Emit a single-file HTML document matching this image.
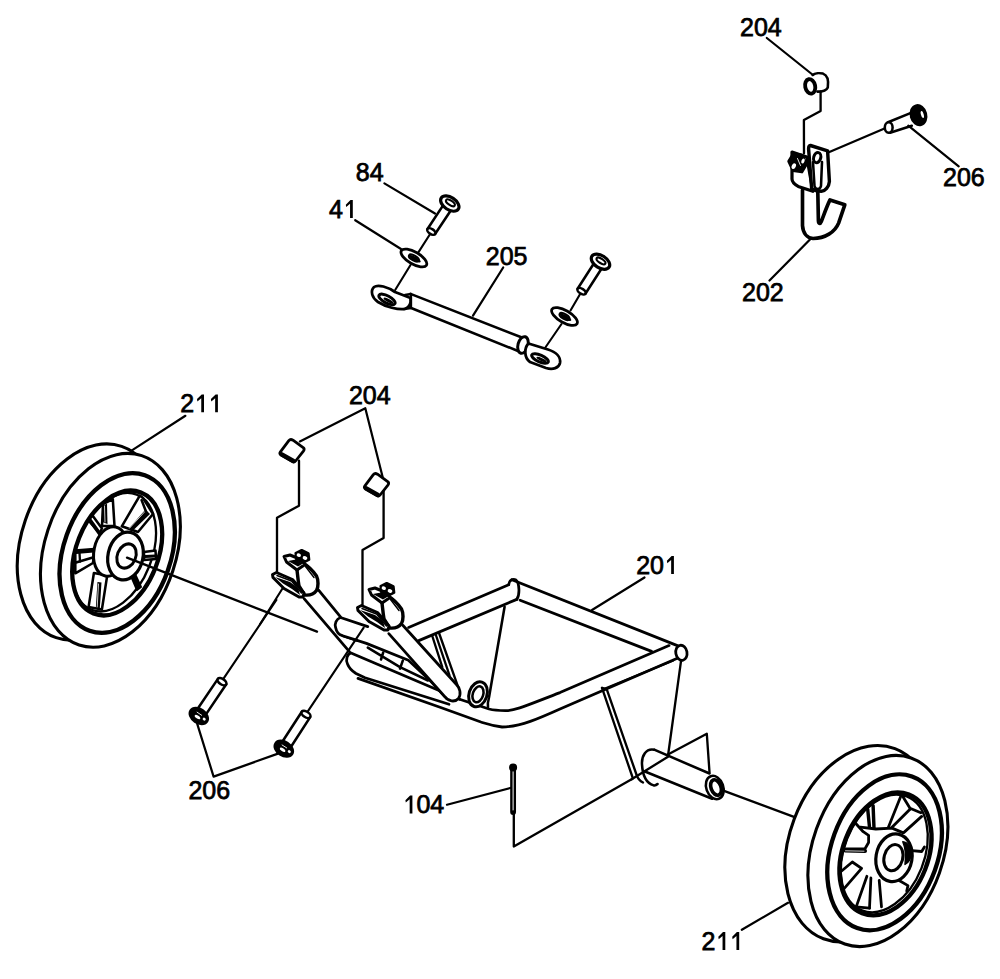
<!DOCTYPE html>
<html><head><meta charset="utf-8"><title>Parts diagram</title>
<style>html,body{margin:0;padding:0;background:#fff;width:1000px;height:979px;overflow:hidden}</style>
</head><body>
<svg width="1000" height="979" viewBox="0 0 1000 979" style="display:block">
<rect width="1000" height="979" fill="#fff"/>
<g font-family="Liberation Sans, sans-serif" font-size="25" fill="#000" stroke="#000" stroke-width="0.75">
<text x="740.00 753.90 767.80" y="36.3">204</text><text x="943.00 956.90 970.80" y="186.2">206</text><text x="742.00 755.90 769.80" y="301">202</text><text x="355.80 369.70" y="180.6">84</text><path d="M350.50,200.00 L352.80,200.00 L352.80,217.90 L350.05,217.90 L350.05,203.80 L346.20,207.10 L345.80,204.70 Z" stroke="none"/><text x="329.00" y="217.9">4</text><text x="485.80 499.70 513.60" y="265.1">205</text><path d="M201.70,394.40 L204.00,394.40 L204.00,412.30 L201.25,412.30 L201.25,398.20 L197.40,401.50 L197.00,399.10 Z" stroke="none"/><path d="M215.60,394.40 L217.90,394.40 L217.90,412.30 L215.15,412.30 L215.15,398.20 L211.30,401.50 L210.90,399.10 Z" stroke="none"/><text x="180.20" y="412.3">2</text><text x="348.90 362.80 376.70" y="404">204</text><path d="M671.60,556.10 L673.90,556.10 L673.90,574.00 L671.15,574.00 L671.15,559.90 L667.30,563.20 L666.90,560.80 Z" stroke="none"/><text x="636.20 650.10" y="574.0">20</text><text x="188.40 202.30 216.20" y="798.9">206</text><path d="M410.10,795.50 L412.40,795.50 L412.40,813.40 L409.65,813.40 L409.65,799.30 L405.80,802.60 L405.40,800.20 Z" stroke="none"/><text x="416.40 430.30" y="813.4">04</text><path d="M723.00,932.10 L725.30,932.10 L725.30,950.00 L722.55,950.00 L722.55,935.90 L718.70,939.20 L718.30,936.80 Z" stroke="none"/><path d="M736.90,932.10 L739.20,932.10 L739.20,950.00 L736.45,950.00 L736.45,935.90 L732.60,939.20 L732.20,936.80 Z" stroke="none"/><text x="701.50" y="950.0">2</text>
</g>
<g fill="none" stroke="#000" stroke-width="1.6" stroke-linecap="round" stroke-linejoin="round">
<path d="M766.8,38.0 L813.0,75.0" fill="none" stroke="#000" stroke-width="2.22"  stroke-linejoin="round" stroke-linecap="round"/><path d="M908.3,125.7 L958.7,166.3" fill="none" stroke="#000" stroke-width="2.22"  stroke-linejoin="round" stroke-linecap="round"/><path d="M769.5,280.5 L811.7,237.8" fill="none" stroke="#000" stroke-width="2.22"  stroke-linejoin="round" stroke-linecap="round"/><path d="M384.4,183.4 L435.0,213.5" fill="none" stroke="#000" stroke-width="2.22"  stroke-linejoin="round" stroke-linecap="round"/><path d="M355.2,220.2 L401.0,249.0" fill="none" stroke="#000" stroke-width="2.22"  stroke-linejoin="round" stroke-linecap="round"/><path d="M503.2,267.5 L473.0,315.7" fill="none" stroke="#000" stroke-width="2.22"  stroke-linejoin="round" stroke-linecap="round"/><path d="M185.4,415.8 L131.5,450.6" fill="none" stroke="#000" stroke-width="2.22"  stroke-linejoin="round" stroke-linecap="round"/><path d="M299.9,441.4 L365.3,408.2 L382.7,477.2" fill="none" stroke="#000" stroke-width="2.22"  stroke-linejoin="round" stroke-linecap="round"/><path d="M644.5,577.5 L592.0,610.0" fill="none" stroke="#000" stroke-width="2.22"  stroke-linejoin="round" stroke-linecap="round"/><path d="M196.3,720.9 L213.6,776.6 L278.0,753.6" fill="none" stroke="#000" stroke-width="2.22"  stroke-linejoin="round" stroke-linecap="round"/><path d="M447.0,804.7 L511.1,787.8" fill="none" stroke="#000" stroke-width="2.22"  stroke-linejoin="round" stroke-linecap="round"/><path d="M741.8,929.8 L788.0,902.8" fill="none" stroke="#000" stroke-width="2.22"  stroke-linejoin="round" stroke-linecap="round"/>
</g>
<path d="M504.6,606.8 L518.5,599.4 L651.6,651.4 L681.1,660.4 L668.1,755 L636.9,775.8 L607.4,689 L560,692.6 L505.4,710.6 L489,709 L487.4,707.3 Z" fill="#fff" stroke="none"  stroke-linejoin="round" stroke-linecap="round"/><path d="M511.9,579.8 L678,645.9" fill="none" stroke="#000" stroke-width="2.77"  stroke-linejoin="round" stroke-linecap="round"/><path d="M520.1,600.2 L651.6,651.4" fill="none" stroke="#000" stroke-width="2.77"  stroke-linejoin="round" stroke-linecap="round"/><path d="M508.7,584.7 L408.6,627.4 M516.8,599.4 L418.8,640.6" fill="none" stroke="#000" stroke-width="2.77"  stroke-linejoin="round" stroke-linecap="round"/><path d="M508.7,584.7 C509,580 513,578.5 516,580 C519.5,583 520,595 516.8,599.4" fill="none" stroke="#000" stroke-width="2.77"  stroke-linejoin="round" stroke-linecap="round"/><path d="M504.6,606.8 L489,697.5 C488,701 487.5,704 488,707.3" fill="none" stroke="#000" stroke-width="2.55"  stroke-linejoin="round" stroke-linecap="round"/><path d="M432.1,635.5 L442.3,667.2" fill="none" stroke="#000" stroke-width="2.33"  stroke-linejoin="round" stroke-linecap="round"/><path d="M435.7,634.5 L449.5,675.4" fill="none" stroke="#000" stroke-width="2.33"  stroke-linejoin="round" stroke-linecap="round"/><path d="M439.2,633.5 L458.7,688.7" fill="none" stroke="#000" stroke-width="2.33"  stroke-linejoin="round" stroke-linecap="round"/><ellipse cx="681.4" cy="652.8" rx="5.6" ry="7.6" transform="rotate(-10.0 681.4 652.8)" fill="#fff" stroke="#000" stroke-width="2.77" /><path d="M669,645.6 L560,692.6 C530,704 515,711 505.4,710.6 C498,710.5 493,710 489,709 L459.6,699.2" fill="none" stroke="#000" stroke-width="2.77"  stroke-linejoin="round" stroke-linecap="round"/><path d="M676.8,658.6 L560,709 C540,718 520,727 502.1,727 C492,726 486,723.5 480.9,722 L440,707.3 L358,678.4" fill="none" stroke="#000" stroke-width="2.77"  stroke-linejoin="round" stroke-linecap="round"/><path d="M673.3,660.4 L603.9,689" fill="none" stroke="#000" stroke-width="2.11"  stroke-linejoin="round" stroke-linecap="round"/><path d="M602.0,687.9 L632.6,777.5" fill="none" stroke="#000" stroke-width="2.33"  stroke-linejoin="round" stroke-linecap="round"/><path d="M606.7,689.1 L636.8,775.5 C638,779 640,781 643,782.5" fill="none" stroke="#000" stroke-width="2.33"  stroke-linejoin="round" stroke-linecap="round"/><path d="M602.0,687.9 L606.7,689.1" fill="none" stroke="#000" stroke-width="2.33"  stroke-linejoin="round" stroke-linecap="round"/><path d="M681.1,660.4 L668.1,755.0" fill="none" stroke="#000" stroke-width="2.33"  stroke-linejoin="round" stroke-linecap="round"/><ellipse cx="478.0" cy="694.3" rx="9.0" ry="12.8" transform="rotate(18.0 478.0 694.3)" fill="#fff" stroke="#000" stroke-width="2.99" /><ellipse cx="478.0" cy="694.3" rx="5.2" ry="8.2" transform="rotate(18.0 478.0 694.3)" fill="#fff" stroke="#000" stroke-width="2.55" /><path d="M654.2,749.7 C646,748 641.5,756 642,764.3 C642.5,774 646,783 653.7,785.4 C655,785.6 656.5,785 657.5,784" fill="none" stroke="#000" stroke-width="2.55"  stroke-linejoin="round" stroke-linecap="round"/><path d="M654.2,749.7 L709.5,773.5 M644.3,771.3 L712.1,798.8" fill="none" stroke="#000" stroke-width="2.55"  stroke-linejoin="round" stroke-linecap="round"/><ellipse cx="714.8" cy="787.5" rx="8.5" ry="12.0" transform="rotate(-20.0 714.8 787.5)" fill="#fff" stroke="#000" stroke-width="2.55" /><ellipse cx="716.0" cy="787.5" rx="5.0" ry="8.0" transform="rotate(-20.0 716.0 787.5)" fill="#fff" stroke="#000" stroke-width="3.65" /><path d="M724.0,790.8 L794.6,817.2" fill="none" stroke="#000" stroke-width="2.33"  stroke-linejoin="round" stroke-linecap="round"/><path d="M667.0,755.0 L706.8,733.7 L709.5,772.2" fill="none" stroke="#000" stroke-width="2.33"  stroke-linejoin="round" stroke-linecap="round"/><path d="M631.7,779.3 L668.0,756.7" fill="none" stroke="#000" stroke-width="2.33"  stroke-linejoin="round" stroke-linecap="round"/>
<path d="M459.6,699.2 L351,653 C347,654 345.5,660 347.5,664 C349,668 352,671 356,673.5 L365,677.7 L449,704.3" fill="#fff" stroke="#000" stroke-width="2.77"  stroke-linejoin="round" stroke-linecap="round"/><path d="M318.8,590.3 L340.5,616.8" fill="none" stroke="#000" stroke-width="2.77"  stroke-linejoin="round" stroke-linecap="round"/><path d="M304.1,598.6 L349.6,651.8" fill="none" stroke="#000" stroke-width="2.77"  stroke-linejoin="round" stroke-linecap="round"/><path d="M342.6,635.7 L366.4,643.4 L408.4,660.2 L430.8,681.2 L444.8,696.6" fill="none" stroke="#000" stroke-width="2.77"  stroke-linejoin="round" stroke-linecap="round"/><path d="M367.8,647.6 L400,667.2 L428,680.5 M383.2,652.5 L381,659.5 M402.8,660.6 L400,668.6" fill="none" stroke="#000" stroke-width="2.55"  stroke-linejoin="round" stroke-linecap="round"/><path d="M367.8,626.6 L340.5,617.5 C336,619 334.5,624 335.6,627.5 C336.5,632 339,635 342.6,635.7 L358,640.6" fill="#fff" stroke="#000" stroke-width="2.77"  stroke-linejoin="round" stroke-linecap="round"/><path d="M388.8,633.6 L444.8,696.6 C448,701.5 455,702.5 458.5,698.5 C461.5,694 460,688 456,684 L402.8,625.2" fill="#fff" stroke="#000" stroke-width="2.77"  stroke-linejoin="round" stroke-linecap="round"/><g transform="translate(0,0)"><path d="M303,563 C308,566 313,571 316.5,576 C318.5,580 318.5,587 316.5,590.5 C314,594 309,595.5 304.5,595 L299,586 C298,580 297.5,574 297,570 Z" fill="#fff" stroke="#000" stroke-width="3.43"  stroke-linejoin="round" stroke-linecap="round"/><path d="M305.5,566.5 L314,577.5" fill="none" stroke="#000" stroke-width="1.45"  stroke-linejoin="round" stroke-linecap="round"/><path d="M284,556.5 L290,555 L302,560 L305,564.5 L297,570 L286.5,562 Z" fill="#fff" stroke="#000" stroke-width="2.99"  stroke-linejoin="round" stroke-linecap="round"/><path d="M288,561 L298,566.5 L303,563.5 L296,559.5 Z" fill="#000" stroke="none"  stroke-linejoin="round" stroke-linecap="round"/><path d="M309.0,559.6 L303.1,562.5 L296.5,559.3 L295.8,553.2 L301.7,550.3 L308.3,553.5 Z" fill="#000" stroke="#000" stroke-width="2.77"  stroke-linejoin="round" stroke-linecap="round"/><ellipse cx="298.8" cy="555.2" rx="2.2" ry="1.7" transform="rotate(20.0 298.8 555.2)" fill="#fff" stroke="none" /><ellipse cx="305.0" cy="558.0" rx="2.4" ry="1.8" transform="rotate(20.0 305.0 558.0)" fill="#fff" stroke="none" /><path d="M272.5,574.5 L276.5,572.5 L292.5,579.5 L304,593 L303,597 L299,597 L284,588.5 L273,577.5 Z" fill="#fff" stroke="#000" stroke-width="2.99"  stroke-linejoin="round" stroke-linecap="round"/><path d="M275,577 L283,583.5 L292,589 L300,595 L298,588 L290,582 Z" fill="#000" stroke="none"  stroke-linejoin="round" stroke-linecap="round"/><path d="M277,575.5 L291.5,581 L301.5,593" fill="none" stroke="#000" stroke-width="1.45"  stroke-linejoin="round" stroke-linecap="round"/></g><g transform="translate(85,33)"><path d="M303,563 C308,566 313,571 316.5,576 C318.5,580 318.5,587 316.5,590.5 C314,594 309,595.5 304.5,595 L299,586 C298,580 297.5,574 297,570 Z" fill="#fff" stroke="#000" stroke-width="3.43"  stroke-linejoin="round" stroke-linecap="round"/><path d="M305.5,566.5 L314,577.5" fill="none" stroke="#000" stroke-width="1.45"  stroke-linejoin="round" stroke-linecap="round"/><path d="M284,556.5 L290,555 L302,560 L305,564.5 L297,570 L286.5,562 Z" fill="#fff" stroke="#000" stroke-width="2.99"  stroke-linejoin="round" stroke-linecap="round"/><path d="M288,561 L298,566.5 L303,563.5 L296,559.5 Z" fill="#000" stroke="none"  stroke-linejoin="round" stroke-linecap="round"/><path d="M309.0,559.6 L303.1,562.5 L296.5,559.3 L295.8,553.2 L301.7,550.3 L308.3,553.5 Z" fill="#000" stroke="#000" stroke-width="2.77"  stroke-linejoin="round" stroke-linecap="round"/><ellipse cx="298.8" cy="555.2" rx="2.2" ry="1.7" transform="rotate(20.0 298.8 555.2)" fill="#fff" stroke="none" /><ellipse cx="305.0" cy="558.0" rx="2.4" ry="1.8" transform="rotate(20.0 305.0 558.0)" fill="#fff" stroke="none" /><path d="M272.5,574.5 L276.5,572.5 L292.5,579.5 L304,593 L303,597 L299,597 L284,588.5 L273,577.5 Z" fill="#fff" stroke="#000" stroke-width="2.99"  stroke-linejoin="round" stroke-linecap="round"/><path d="M275,577 L283,583.5 L292,589 L300,595 L298,588 L290,582 Z" fill="#000" stroke="none"  stroke-linejoin="round" stroke-linecap="round"/><path d="M277,575.5 L291.5,581 L301.5,593" fill="none" stroke="#000" stroke-width="1.45"  stroke-linejoin="round" stroke-linecap="round"/></g>
<ellipse cx="88.9" cy="542.0" rx="67.2" ry="101.1" transform="rotate(18.9 88.9 542.0)" fill="#fff" stroke="#000" stroke-width="3.1" /><ellipse cx="110.4" cy="550.3" rx="65.7" ry="99.7" transform="rotate(18.3 110.4 550.3)" fill="#fff" stroke="#000" stroke-width="3.1" /><ellipse cx="117.2" cy="553.0" rx="53.6" ry="82.5" transform="rotate(19.6 117.2 553.0)" fill="#fff" stroke="#000" stroke-width="4.31" /><ellipse cx="117.2" cy="553.0" rx="41.0" ry="65.0" transform="rotate(21.4 117.2 553.0)" fill="#fff" stroke="#000" stroke-width="4.31" /><ellipse cx="114.2" cy="552.2" rx="37.8" ry="61.8" transform="rotate(21.4 114.2 552.2)" fill="none" stroke="#000" stroke-width="2.33" /><path d="M102.0,526.0 L103.0,504.0 L112.8,499.0 L114.5,526.0 Z" fill="#fff" stroke="#000" stroke-width="2.55"  stroke-linejoin="round" stroke-linecap="round"/><path d="M102.3,522.0 L102.8,506.0 L107.0,503.5 L107.5,524.0 Z" fill="#000" stroke="none"  stroke-linejoin="round" stroke-linecap="round"/><path d="M104.5,506.0 L105.0,522.0" fill="none" stroke="#fff" stroke-width="0.8"  stroke-linejoin="round" stroke-linecap="round"/><path d="M88.5,520.5 L92.5,515.5 L102.0,528.5 L99.5,533.0 Z" fill="#fff" stroke="#000" stroke-width="2.55"  stroke-linejoin="round" stroke-linecap="round"/><path d="M89.5,519.5 L99.5,533.5" fill="none" stroke="#000" stroke-width="3.87"  stroke-linejoin="round" stroke-linecap="round"/><path d="M121.8,526.3 L139.8,495.6 L143.0,498.0 L153.0,514.0 L138.0,532.0 Z" fill="#fff" stroke="#000" stroke-width="2.55"  stroke-linejoin="round" stroke-linecap="round"/><path d="M128.5,529.0 L145.5,509.5 L150.0,514.0 L132.0,531.5 Z" fill="#000" stroke="none"  stroke-linejoin="round" stroke-linecap="round"/><path d="M129.5,528.2 L145.8,510.6" fill="none" stroke="#fff" stroke-width="0.8"  stroke-linejoin="round" stroke-linecap="round"/><path d="M141.6,500.1 L146.1,511.8" fill="none" stroke="#000" stroke-width="2.55"  stroke-linejoin="round" stroke-linecap="round"/><path d="M144.0,552.0 L155.5,550.5 L156.0,559.0 L144.0,560.0 Z" fill="#fff" stroke="#000" stroke-width="2.55"  stroke-linejoin="round" stroke-linecap="round"/><path d="M145.0,556.5 L155.5,556.0" fill="none" stroke="#000" stroke-width="3.21"  stroke-linejoin="round" stroke-linecap="round"/><path d="M131.0,576.0 L135.0,574.0 L141.0,587.0 L137.0,590.0 Z" fill="#000" stroke="#000" stroke-width="2.0"  stroke-linejoin="round" stroke-linecap="round"/><path d="M93.9,573.0 L88.6,606.9 L101.9,609.5 L107.2,575.6 Z" fill="#fff" stroke="#000" stroke-width="2.55"  stroke-linejoin="round" stroke-linecap="round"/><path d="M97.5,582.0 L95.8,607.8 L99.8,608.5 L101.5,582.5 Z" fill="#000" stroke="none"  stroke-linejoin="round" stroke-linecap="round"/><path d="M98.5,584.0 L97.2,607.0" fill="none" stroke="#fff" stroke-width="0.8"  stroke-linejoin="round" stroke-linecap="round"/><path d="M94.5,549.0 L75.3,550.4 L75.3,573.3 L93.0,563.0 Z" fill="#fff" stroke="#000" stroke-width="2.55"  stroke-linejoin="round" stroke-linecap="round"/><path d="M76.0,552.0 L93.5,550.5" fill="none" stroke="#000" stroke-width="3.87"  stroke-linejoin="round" stroke-linecap="round"/><path d="M76.0,562.5 L92.8,557.5" fill="none" stroke="#000" stroke-width="2.55"  stroke-linejoin="round" stroke-linecap="round"/><path d="M79.5,553.0 L80.0,561.5" fill="none" stroke="#000" stroke-width="2.33"  stroke-linejoin="round" stroke-linecap="round"/><ellipse cx="110.5" cy="551.5" rx="16.5" ry="25.0" transform="rotate(12.0 110.5 551.5)" fill="#fff" stroke="#000" stroke-width="2.99" /><ellipse cx="125.5" cy="556.0" rx="17.5" ry="24.2" transform="rotate(12.0 125.5 556.0)" fill="#fff" stroke="#000" stroke-width="3.21" /><ellipse cx="126.5" cy="556.0" rx="9.2" ry="12.5" transform="rotate(22.0 126.5 556.0)" fill="#fff" stroke="#000" stroke-width="2.99" /><path d="M127.0,557.7 L317.0,631.7" fill="none" stroke="#000" stroke-width="2.33"  stroke-linejoin="round" stroke-linecap="round"/><ellipse cx="859.2" cy="843.7" rx="69.5" ry="101.6" transform="rotate(20.6 859.2 843.7)" fill="#fff" stroke="#000" stroke-width="3.1" /><ellipse cx="877.9" cy="851.0" rx="65.3" ry="98.8" transform="rotate(19.6 877.9 851.0)" fill="#fff" stroke="#000" stroke-width="3.1" /><ellipse cx="884.6" cy="852.3" rx="53.4" ry="80.6" transform="rotate(19.9 884.6 852.3)" fill="#fff" stroke="#000" stroke-width="4.31" /><ellipse cx="885.5" cy="853.9" rx="42.6" ry="63.8" transform="rotate(21.5 885.5 853.9)" fill="#fff" stroke="#000" stroke-width="4.31" /><ellipse cx="884.3" cy="853.4" rx="40.0" ry="61.2" transform="rotate(21.5 884.3 853.4)" fill="none" stroke="#000" stroke-width="2.33" /><path d="M855.1,822.7 L863.2,831.7 L868.6,835.3 L868.6,842.5 L865,848.8 L845.2,848.8 M841.6,871 L852.3,862 L861.6,868.4 L844.3,888.3 M856.2,906.9 L866.9,876.3 M869.5,908.2 L870.9,878 M881.5,906.9 L879.2,880.3" fill="none" stroke="#000" stroke-width="2.77"  stroke-linejoin="round" stroke-linecap="round"/><path d="M860.5,827.2 L875.8,829 L892,828.1 L902.8,832.6" fill="none" stroke="#000" stroke-width="2.77"  stroke-linejoin="round" stroke-linecap="round"/><path d="M867.7,809.2 L869.5,827.2" fill="none" stroke="#000" stroke-width="3.43"  stroke-linejoin="round" stroke-linecap="round"/><path d="M873.1,805.6 L874.0,828.1" fill="none" stroke="#000" stroke-width="3.43"  stroke-linejoin="round" stroke-linecap="round"/><path d="M901.0,795.7 L888.4,827.2" fill="none" stroke="#000" stroke-width="2.77"  stroke-linejoin="round" stroke-linecap="round"/><path d="M902.8,796.6 L910.0,808.3 L920.8,812.8" fill="none" stroke="#000" stroke-width="2.77"  stroke-linejoin="round" stroke-linecap="round"/><path d="M892.0,827.2 L910.0,809.2" fill="none" stroke="#000" stroke-width="2.77"  stroke-linejoin="round" stroke-linecap="round"/><path d="M903.7,832.6 L921.7,816.4" fill="none" stroke="#000" stroke-width="2.77"  stroke-linejoin="round" stroke-linecap="round"/><path d="M911.8,850.6 L921.7,851.5 L924.4,847.0" fill="none" stroke="#000" stroke-width="2.77"  stroke-linejoin="round" stroke-linecap="round"/><path d="M898.7,880.3 L908.0,885.6 L906.7,891.0" fill="none" stroke="#000" stroke-width="2.77"  stroke-linejoin="round" stroke-linecap="round"/><path d="M845.2,850.5 L865.0,851.0" fill="none" stroke="#000" stroke-width="4.09"  stroke-linejoin="round" stroke-linecap="round"/><path d="M845.5,850.8 L864.0,851.2" fill="none" stroke="#fff" stroke-width="0.8"  stroke-linejoin="round" stroke-linecap="round"/><path d="M856.2,906.9 L869.5,908.2" fill="none" stroke="#000" stroke-width="2.77"  stroke-linejoin="round" stroke-linecap="round"/><ellipse cx="894.0" cy="857.7" rx="18.0" ry="24.0" transform="rotate(10.0 894.0 857.7)" fill="#fff" stroke="#000" stroke-width="3.21" /><path d="M902.8,841.6 C908,842 911.5,848 911,855 C910.5,860 908,863 905,864.4 C906,857 905.5,848 902.8,841.6 Z" fill="#000" stroke="#000" stroke-width="1.45"  stroke-linejoin="round" stroke-linecap="round"/><ellipse cx="893.4" cy="857.7" rx="9.3" ry="13.3" transform="rotate(15.0 893.4 857.7)" fill="#fff" stroke="#000" stroke-width="2.99" />
<path d="M812.6,75 C815,73 820,72.8 823,73.6 C827,75 828.8,80 827.8,87.4 C826.5,90.5 822,91.6 817.4,91.6" fill="none" stroke="#000" stroke-width="2.55"  stroke-linejoin="round" stroke-linecap="round"/><ellipse cx="810.2" cy="86.4" rx="5.0" ry="7.3" transform="rotate(-12.0 810.2 86.4)" fill="#fff" stroke="#000" stroke-width="3.87" /><path d="M820.6,91.5 L820.6,110.9 L803.9,120.1 L804.0,153.3" fill="none" stroke="#000" stroke-width="2.33"  stroke-linejoin="round" stroke-linecap="round"/><path d="M829.4,152.0 L884.5,128.5" fill="none" stroke="#000" stroke-width="2.33"  stroke-linejoin="round" stroke-linecap="round"/><path d="M888,122.2 L910.4,113.1 M890.1,132.7 L911.8,125.7" fill="none" stroke="#000" stroke-width="2.55"  stroke-linejoin="round" stroke-linecap="round"/><ellipse cx="888.7" cy="127.5" rx="3.9" ry="5.3" transform="rotate(0.0 888.7 127.5)" fill="#fff" stroke="#000" stroke-width="2.55" /><ellipse cx="918.5" cy="115.2" rx="7.2" ry="9.6" transform="rotate(-15.0 918.5 115.2)" fill="#000" stroke="#000" stroke-width="3.21" /><ellipse cx="922.3" cy="114.5" rx="1.4" ry="3.6" transform="rotate(-15.0 922.3 114.5)" fill="#fff" stroke="none" /><path d="M802.5,190 L802.5,225.6 C803,233 807,238 813,238.5 C825,238.5 835,232 838.6,223.1 L844.8,204.8 L830,199.9 C826.5,207 823.5,216 821.3,221.5 C820.3,224 818.6,224.3 818.4,221 L817.8,191.3" fill="#fff" stroke="#000" stroke-width="3.65"  stroke-linejoin="round" stroke-linecap="round"/><path d="M792,152 L806.8,157 L812.9,191.3 L798.2,186.4 C794,184 792,181 792,179 Z" fill="#fff" stroke="#000" stroke-width="3.21"  stroke-linejoin="round" stroke-linecap="round"/><path d="M806.5,164.3 L801.9,172.0 L793.0,170.6 L788.7,161.3 L793.3,153.6 L802.2,155.0 Z" fill="#000" stroke="#000" stroke-width="2.77"  stroke-linejoin="round" stroke-linecap="round"/><ellipse cx="793.8" cy="166.2" rx="2.0" ry="3.0" transform="rotate(25.0 793.8 166.2)" fill="#fff" stroke="none" /><ellipse cx="803.0" cy="161.0" rx="1.5" ry="2.6" transform="rotate(25.0 803.0 161.0)" fill="#fff" stroke="none" /><path d="M797.5,158.5 L800.5,165.5" fill="none" stroke="#fff" stroke-width="0.9"  stroke-linejoin="round" stroke-linecap="round"/><path d="M810.5,145.5 L827.6,150.8 L829.4,181.5 C829,187 825,191.3 821.5,191.3 C815,191 811.7,188.8 811.7,188.8 L808.6,149 C808.5,146.5 809.2,145.3 810.5,145.5 Z" fill="#fff" stroke="#000" stroke-width="3.43"  stroke-linejoin="round" stroke-linecap="round"/><path d="M813,162 L814.5,186 C815.5,190 820,190 821,186 L822,162" fill="none" stroke="#000" stroke-width="2.55"  stroke-linejoin="round" stroke-linecap="round"/><ellipse cx="817.2" cy="157.6" rx="3.5" ry="5.2" transform="rotate(15.0 817.2 157.6)" fill="#fff" stroke="#000" stroke-width="2.99" />
<path d="M444.9,202.6 L427.5,229.0 L435.1,234.0 L452.6,207.7 Z" fill="#fff" stroke="#000" stroke-width="2.55"  stroke-linejoin="round" stroke-linecap="round"/><ellipse cx="431.3" cy="231.5" rx="4.6" ry="2.5" transform="rotate(-146.5 431.3 231.5)" fill="#fff" stroke="#000" stroke-width="2.55" /><ellipse cx="449.8" cy="203.6" rx="10.2" ry="6.2" transform="rotate(-146.5 449.8 203.6)" fill="#fff" stroke="#000" stroke-width="3.21" /><ellipse cx="450.4" cy="202.8" rx="5.1" ry="2.2" transform="rotate(-146.5 450.4 202.8)" fill="#fff" stroke="#000" stroke-width="2.11" /><path d="M429.8,234.5 L417.4,253.9" fill="none" stroke="#000" stroke-width="2.11"  stroke-linejoin="round" stroke-linecap="round"/><path d="M410.5,265.0 L395.3,289.8" fill="none" stroke="#000" stroke-width="2.11"  stroke-linejoin="round" stroke-linecap="round"/><ellipse cx="413.9" cy="258.0" rx="14.5" ry="6.0" transform="rotate(30.0 413.9 258.0)" fill="#fff" stroke="#000" stroke-width="2.77" /><ellipse cx="415.0" cy="258.8" rx="6.5" ry="2.0" transform="rotate(30.0 415.0 258.8)" fill="#000" stroke="none" /><ellipse cx="413.9" cy="258.0" rx="5.5" ry="2.4" transform="rotate(30.0 413.9 258.0)" fill="none" stroke="#000" stroke-width="2.11" /><path d="M410.5,293.9 L522,337.5 M410.5,307.7 L518,351" fill="none" stroke="#000" stroke-width="2.55"  stroke-linejoin="round" stroke-linecap="round"/><path d="M395,292 C388,287 378,284 374,287 C370,291 372,298 378,302 C386,307 398,310 405,309 C410,307 411,302 410.5,298 Z" fill="#fff" stroke="#000" stroke-width="2.77"  stroke-linejoin="round" stroke-linecap="round"/><ellipse cx="387.0" cy="299.4" rx="9.0" ry="3.6" transform="rotate(28.0 387.0 299.4)" fill="#fff" stroke="#000" stroke-width="2.99" /><ellipse cx="388.5" cy="300.6" rx="5.5" ry="1.6" transform="rotate(28.0 388.5 300.6)" fill="#000" stroke="none" /><path d="M405,295 L411,294 L411,308 L404,309" fill="none" stroke="#000" stroke-width="2.33"  stroke-linejoin="round" stroke-linecap="round"/><ellipse cx="523.0" cy="345.0" rx="5.0" ry="8.5" transform="rotate(15.0 523.0 345.0)" fill="#fff" stroke="#000" stroke-width="2.99" /><path d="M528.5,343.5 L548,349.5 C556,352 561,357 560,363 C559,368 553,370 546,368 L530,362 C524,358 524,348 528.5,343.5 Z" fill="#fff" stroke="#000" stroke-width="2.77"  stroke-linejoin="round" stroke-linecap="round"/><ellipse cx="540.0" cy="358.5" rx="9.0" ry="3.4" transform="rotate(24.0 540.0 358.5)" fill="#fff" stroke="#000" stroke-width="2.99" /><ellipse cx="541.5" cy="359.6" rx="5.5" ry="1.5" transform="rotate(24.0 541.5 359.6)" fill="#000" stroke="none" /><path d="M545.0,348.0 L561.5,324.0" fill="none" stroke="#000" stroke-width="2.11"  stroke-linejoin="round" stroke-linecap="round"/><path d="M570.5,310.5 L581.0,292.5" fill="none" stroke="#000" stroke-width="2.11"  stroke-linejoin="round" stroke-linecap="round"/><ellipse cx="564.5" cy="316.5" rx="14.5" ry="6.0" transform="rotate(30.0 564.5 316.5)" fill="#fff" stroke="#000" stroke-width="2.77" /><ellipse cx="565.6" cy="317.3" rx="6.5" ry="2.0" transform="rotate(30.0 565.6 317.3)" fill="#000" stroke="none" /><ellipse cx="564.5" cy="316.5" rx="5.5" ry="2.4" transform="rotate(30.0 564.5 316.5)" fill="none" stroke="#000" stroke-width="2.11" /><path d="M595.6,260.8 L577.6,288.7 L585.4,293.7 L603.4,265.8 Z" fill="#fff" stroke="#000" stroke-width="2.55"  stroke-linejoin="round" stroke-linecap="round"/><ellipse cx="581.5" cy="291.2" rx="4.6" ry="2.5" transform="rotate(-147.2 581.5 291.2)" fill="#fff" stroke="#000" stroke-width="2.55" /><ellipse cx="600.5" cy="261.7" rx="10.2" ry="6.2" transform="rotate(-147.2 600.5 261.7)" fill="#fff" stroke="#000" stroke-width="3.21" /><ellipse cx="601.0" cy="260.9" rx="5.1" ry="2.2" transform="rotate(-147.2 601.0 260.9)" fill="#fff" stroke="#000" stroke-width="2.11" />
<g transform="translate(0,0)"><path d="M288.8,440.6 C290,439.2 291.5,439.3 293,440.2 L303.2,447.6 C304.3,448.5 304.4,449.6 303.6,450.8 L295.6,461 C294.8,462 293.6,462.3 292.4,461.6 L281,455 C279.8,454.2 279.6,453 280.4,451.8 Z" fill="#fff" stroke="#000" stroke-width="2.77"  stroke-linejoin="round" stroke-linecap="round"/><path d="M281.8,454.4 L293.4,461.0" fill="none" stroke="#000" stroke-width="4.53"  stroke-linejoin="round" stroke-linecap="round"/></g><g transform="translate(84.5,34)"><path d="M288.8,440.6 C290,439.2 291.5,439.3 293,440.2 L303.2,447.6 C304.3,448.5 304.4,449.6 303.6,450.8 L295.6,461 C294.8,462 293.6,462.3 292.4,461.6 L281,455 C279.8,454.2 279.6,453 280.4,451.8 Z" fill="#fff" stroke="#000" stroke-width="2.77"  stroke-linejoin="round" stroke-linecap="round"/><path d="M281.8,454.4 L293.4,461.0" fill="none" stroke="#000" stroke-width="4.53"  stroke-linejoin="round" stroke-linecap="round"/></g><path d="M299.0,460.7 L299.0,505.7 L277.0,517.7 L277.0,572.9" fill="none" stroke="#000" stroke-width="2.33"  stroke-linejoin="round" stroke-linecap="round"/><path d="M383.6,491.0 L383.6,537.9 L362.5,549.9 L362.5,606.0" fill="none" stroke="#000" stroke-width="2.33"  stroke-linejoin="round" stroke-linecap="round"/>
<path d="M276.4,600.0 L222.5,680.1" fill="none" stroke="#000" stroke-width="2.11"  stroke-linejoin="round" stroke-linecap="round"/><path d="M204.1,717.1 L226.1,684.5 L217.9,678.9 L195.8,711.5 Z" fill="#fff" stroke="#000" stroke-width="2.55"  stroke-linejoin="round" stroke-linecap="round"/><ellipse cx="222.0" cy="681.7" rx="5.0" ry="2.8" transform="rotate(34.1 222.0 681.7)" fill="#fff" stroke="#000" stroke-width="2.55" /><ellipse cx="198.8" cy="716.0" rx="9.8" ry="6.8" transform="rotate(34.1 198.8 716.0)" fill="#000" stroke="#000" stroke-width="2.55" /><ellipse cx="197.5" cy="717.0" rx="3.2" ry="1.5" transform="rotate(34.1 197.5 717.0)" fill="#fff" stroke="none" /><ellipse cx="204.2" cy="719.1" rx="1.6" ry="1.4" transform="rotate(34.1 204.2 719.1)" fill="#fff" stroke="none" /><path d="M197.1,712.2 L201.7,715.3" fill="none" stroke="#fff" stroke-width="0.9"  stroke-linejoin="round" stroke-linecap="round"/><path d="M363.7,627.6 L305.8,714.4" fill="none" stroke="#000" stroke-width="2.11"  stroke-linejoin="round" stroke-linecap="round"/><path d="M289.1,749.7 L310.2,717.1 L301.8,711.7 L280.7,744.3 Z" fill="#fff" stroke="#000" stroke-width="2.55"  stroke-linejoin="round" stroke-linecap="round"/><ellipse cx="306.0" cy="714.4" rx="5.0" ry="2.8" transform="rotate(32.9 306.0 714.4)" fill="#fff" stroke="#000" stroke-width="2.55" /><ellipse cx="283.8" cy="748.7" rx="9.8" ry="6.8" transform="rotate(32.9 283.8 748.7)" fill="#000" stroke="#000" stroke-width="2.55" /><ellipse cx="282.6" cy="749.7" rx="3.2" ry="1.5" transform="rotate(32.9 282.6 749.7)" fill="#fff" stroke="none" /><ellipse cx="289.3" cy="751.6" rx="1.6" ry="1.4" transform="rotate(32.9 289.3 751.6)" fill="#fff" stroke="none" /><path d="M282.1,745.0 L286.7,747.9" fill="none" stroke="#fff" stroke-width="0.9"  stroke-linejoin="round" stroke-linecap="round"/><path d="M260.0,624.3 L282.8,588.0" fill="none" stroke="#000" stroke-width="2.11"  stroke-linejoin="round" stroke-linecap="round"/><path d="M300.0,600.0 L272.4,605.0" fill="none" stroke="none"  stroke-linejoin="round" stroke-linecap="round"/>
<path d="M513.1,767.0 L513.1,812.0" fill="none" stroke="#000" stroke-width="5.85"  stroke-linejoin="round" stroke-linecap="round"/><path d="M513.1,770.0 L513.1,810.0" fill="none" stroke="#fff" stroke-width="1.0"  stroke-linejoin="round" stroke-linecap="round"/><ellipse cx="513.1" cy="767.5" rx="3.3" ry="3.3" transform="rotate(0.0 513.1 767.5)" fill="#000" stroke="#000" stroke-width="1.45" /><path d="M513.8,812.0 L513.8,846.5 L632.5,778.8" fill="none" stroke="#000" stroke-width="2.33"  stroke-linejoin="round" stroke-linecap="round"/>
</svg>
</body></html>
